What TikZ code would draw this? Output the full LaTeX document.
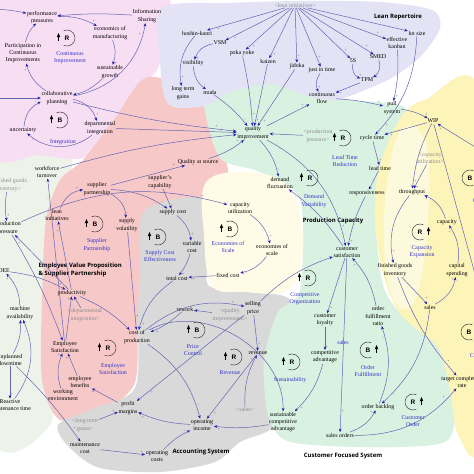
\documentclass[tikz,border=0pt]{standalone}
\usepackage{fontspec}
\setmainfont{Liberation Serif}
\newfontfamily\cldheadfam{Open Sans}
\newfontfamily\cldloopfam{Liberation Sans}
\usetikzlibrary{arrows.meta}

\definecolor{linkc}{HTML}{6464B4}
\definecolor{headc}{HTML}{1C1CA8}
\definecolor{loopblue}{HTML}{3232C8}
\definecolor{ghostc}{HTML}{8E8E8E}
\definecolor{cipink}{HTML}{F8DEF3}
\definecolor{lavbg}{HTML}{E3E3F5}
\definecolor{salmonbg}{HTML}{F6C8C7}
\definecolor{graybg}{HTML}{D9D9D9}
\definecolor{greenbg}{HTML}{D9F1E0}
\definecolor{creambg}{HTML}{FFFBE6}
\definecolor{yellowbg}{HTML}{FCF4B8}
\definecolor{paleyel}{HTML}{FDF9DC}
\definecolor{leftbg}{HTML}{EEF3EA}

\newcommand*{\cldvar}{\fontsize{5.9}{7.2}\selectfont}
\newcommand*{\cldsign}{\fontsize{4}{4}\selectfont}
\newcommand*{\cldhead}{\cldheadfam\bfseries\fontsize{6}{8.6}\selectfont}

% loop symbol: name, x, y, letter, side (1 = arrow on the left, -1 = on the right)
\newcommand*{\cldloop}[5]{%
	\begin{scope}[shift={(#2,#3)},xscale=#5]
		\draw[black!75,line width=0.5pt] (115:8) arc[start angle=115,end angle=-115,radius=8];
		\fill[black] (-8.5,-5) -- (-10.3,-0.8) -- (-6.7,-0.8) -- cycle;
		\draw[black,line width=0.7pt] (-8.5,-1) -- (-8.5,2.5);
	\end{scope}
	\node[looplet] (#1) at (#2,#3) {#4};}

\begin{document}
\begin{tikzpicture}
[
	x=1pt, y=-1pt,
	var/.style={font=\cldvar,align=center,inner sep=0.6pt},
	ghost/.style={var,text=ghostc},
	looplbl/.style={var,text=loopblue},
	looplet/.style={font=\cldloopfam\bfseries\fontsize{6.5}{6.5}\selectfont,inner sep=0pt},
	heading/.style={font=\cldhead,align=center},
	lk/.style={draw=linkc,line width=0.5pt,-{Stealth[length=3.4pt,width=2.8pt,color=headc]}},
	sg/.style={font=\cldsign,text=black!70,pos=0.88,auto,inner sep=0.7pt}
]

	\useasboundingbox (0,0) rectangle (474,474);
	\fill[white] (0,0) rectangle (474,474);

	% background areas
	\fill[leftbg] plot[smooth cycle,tension=.6] coordinates {(-10,140) (70,150) (50,250) (45,350) (50,425) (-10,430)};
	\fill[cipink] plot[smooth cycle,tension=.5] coordinates {(-10,-10) (158,-10) (165,35) (158,68) (143,85) (110,125) (83,158) (40,155) (-10,152)};
	\fill[salmonbg] plot[smooth cycle,tension=.5] coordinates {(145,78) (185,86) (208,100) (218,140) (228,172) (212,195) (180,207) (150,212) (142,260) (138,330) (134,385) (100,412) (60,420) (42,380) (42,300) (46,220) (60,180) (83,160) (115,118)};
	\fill[graybg] plot[smooth cycle,tension=.5] coordinates {(145,210) (205,198) (215,240) (208,285) (260,292) (290,300) (272,330) (265,380) (275,425) (240,442) (215,462) (160,472) (100,468) (70,448) (58,425) (95,408) (135,388) (138,320) (140,260)};
	\fill[greenbg] plot[smooth cycle,tension=.5] coordinates {(205,86) (250,80) (300,90) (350,100) (405,108) (392,150) (376,210) (383,285) (405,318) (440,345) (455,400) (448,440) (400,447) (330,446) (285,440) (268,415) (264,360) (278,312) (300,290) (300,200) (260,172) (222,160) (208,125)};
	\fill[creambg] plot[smooth cycle,tension=.6] coordinates {(206,182) (250,172) (288,186) (302,225) (300,270) (285,292) (245,292) (212,286) (204,235)};
	\fill[lavbg] plot[smooth cycle,tension=.5] coordinates {(162,8) (230,3) (300,1) (380,2) (432,10) (440,28) (422,55) (395,76) (365,90) (335,100) (305,95) (270,84) (230,92) (205,106) (168,104) (160,60)};
	\fill[yellowbg] plot[smooth cycle,tension=.5] coordinates {(425,100) (480,95) (480,435) (458,435) (450,390) (438,348) (402,316) (385,280) (375,225) (377,178) (390,138) (405,112)};
	\fill[paleyel] plot[smooth cycle,tension=.7] coordinates {(398,135) (425,140) (428,220) (415,300) (392,296) (384,220)};

	% headings
	\node[heading] (hLR) at (398,17) {Lean Repertoire};
	\node[heading] (hPC) at (333,221) {Production Capacity};
	\node[heading,align=left,anchor=west] (hEV) at (35,270) {Employee Value Proposition\\\& Supplier Partnership};
	\node[heading] (hAS) at (201,452) {Accounting System};
	\node[heading] (hCF) at (343,456) {Customer Focused System};

	% continuous improvement
	\node[var] (pm) at (42,17) {performance\\measures};
	\node[var] (info) at (147,16) {Information\\Sharing};
	\node[var] (econ) at (110,33) {economics of\\manufacturing};
	\node[var] (part) at (23,53) {Participation in\\Continuous\\Improvements};
	\node[var] (sgr) at (110,72) {sustainable\\growth};
	\node[var] (cp) at (57,98) {collaborative\\planning};
	\node[var] (unc) at (23,130) {uncertainty};
	\node[var] (dint) at (100,128) {departmental\\integration};
	\coordinate (lftA) at (-5,9);
	\coordinate (lftB) at (-5,98);

	% lean repertoire
	\node[ghost] (li) at (295,5) {<lean initiatives>};
	\node[var] (hk) at (197,33) {hoshin-kanri};
	\node[var] (vsm) at (220,43) {VSM};
	\node[var] (pk) at (242,53) {poka yoke};
	\node[var] (kz) at (268,61) {kaizen};
	\node[var] (jd) at (297,66) {jidoka};
	\node[var] (jit) at (322,70) {just in time};
	\node[var] (fiveS) at (353,61) {5S};
	\node[var] (smed) at (378,57) {SMED};
	\node[var] (kan) at (397,43) {effective\\kanban};
	\node[var] (lot) at (417,33) {lot size};
	\node[var] (tpm) at (367,80) {TPM};
	\node[var] (cf) at (322,98) {continuous\\flow};
	\node[var] (vis) at (193,63) {visibility};
	\node[var] (ltg) at (183,93) {long term\\gains};
	\node[var] (muda) at (210,92) {muda};

	% quality and production capacity
	\node[var] (qi) at (253,133) {quality\\improvement};
	\node[ghost] (pp2) at (318,136) {<production\\pressure>};
	\node[var] (ps) at (392,108) {pull\\system};
	\node[var] (wip) at (433,121) {WIP};
	\node[var] (ct) at (372,138) {cycle time};
	\node[var] (lt) at (380,168) {lead time};
	\node[var] (resp) at (367,193) {responsiveness};
	\node[var] (qas) at (198,162) {Quality at source};
	\node[var] (df) at (280,183) {demand\\fluctuation};
	\node[var] (cs) at (347,252) {customer\\satisfaction};
	\coordinate (wipR) at (478,285);
	\coordinate (inR) at (480,150);

	% capacity expansion
	\node[ghost] (cu2) at (430,158) {<capacity\\utilization>};
	\node[var] (thr) at (412,192) {throughput};
	\node[var] (capa) at (447,222) {capacity};
	\node[var] (fgi) at (395,270) {finished goods\\inventory};
	\node[var] (capsp) at (457,270) {capital\\spending};
	\node[var] (sales) at (430,307) {sales};
	\node[var] (tcr) at (462,382) {target completion\\rate};

	% customer focused system
	\node[var] (cl) at (325,320) {customer\\loyalty};
	\node[var] (ofr) at (378,316) {order\\fulfillment\\ratio};
	\node[var] (ca) at (325,357) {competitive\\advantage};
	\node[looplbl] (salesl) at (343,342) {sales};
	\node[var] (ob) at (378,407) {order backlog};
	\node[var] (so) at (340,435) {sales orders};
	\node[var] (sca) at (283,422) {sustainable\\competitive\\advantage};

	% employee value proposition and supplier partnership
	\node[var] (wt) at (47,172) {workforce\\turnover};
	\node[ghost] (fgi2) at (8,185) {<finished goods\\inventory>};
	\node[var] (sp) at (97,189) {supplier\\partnership};
	\node[var] (scap) at (160,182) {supplier's\\capability};
	\node[var] (lin) at (57,215) {lean\\initiatives};
	\node[var] (sv) at (127,225) {supply\\volatility};
	\node[var] (ppr) at (8,228) {production\\pressure};
	\node[var] (oee) at (4,271) {OEE};
	\node[var] (prod) at (72,293) {productivity};
	\node[ghost] (dint2) at (85,315) {<departmental\\integration>};
	\node[var] (ma) at (20,313) {machine\\availability};
	\node[var] (es) at (65,347) {Employee\\Satisfaction};
	\node[var] (ud) at (10,360) {unplanned\\downtime};
	\node[var] (eb) at (80,382) {employee\\benefits};
	\node[var] (we) at (63,395) {working\\environment};
	\node[var] (rmt) at (10,405) {Reactive\\maintenance time};
	\node[var] (pmg) at (128,408) {profit\\margins};
	\node[ghost] (ltg2) at (85,425) {<long term\\gains>};
	\node[var] (mc) at (85,448) {maintenance\\cost};
	\node[var] (oc) at (157,456) {operating\\costs};

	% accounting system
	\node[var] (sc) at (173,212) {supply cost};
	\node[var] (vc) at (192,247) {variable\\cost};
	\node[var] (cu) at (240,208) {capacity\\utilization};
	\node[var] (eos) at (272,250) {economies of\\scale};
	\node[var] (fc) at (228,275) {fixed cost};
	\node[var] (tc) at (177,278) {total cost};
	\node[var] (cop) at (137,337) {cost of\\production};
	\node[var] (rw) at (185,309) {rework};
	\node[ghost] (qi2) at (230,315) {<quality\\improvement>};
	\node[var] (spr) at (253,308) {selling\\price};
	\node[var] (rev) at (258,353) {revenue};
	\node[ghost] (sls2) at (245,409) {<sales>};
	\node[var] (oi) at (202,425) {operating\\income};

	% links: continuous improvement
	\draw[lk] (pm) to[bend left=15] node[sg]{+} (econ);
	\draw[lk] (econ) to[bend left=20] node[sg]{+} (sgr);
	\draw[lk] (sgr) to[bend left=15] node[sg]{+} (cp);
	\draw[lk] (cp) to[bend left=20] node[sg]{+} (part);
	\draw[lk] (part) to[bend left=15] node[sg]{+} (pm);
	\draw[lk] (info) to[bend right=4] node[sg]{+} (pm);
	\draw[lk] (cp) to[bend right=35] node[sg]{+} (info);
	\draw[lk] (cp) to[bend left=30] node[sg]{+} (dint);
	\draw[lk] (dint) to[bend left=40] node[sg]{-} (unc);
	\draw[lk] (unc) to[bend left=30] node[sg]{-} (cp);
	\draw[lk] (lftA) to[bend left=4] (pm);
	\draw[lk] (lftB) -- (cp);

	% links: lean repertoire
	\draw[lk] (li) -- node[sg]{+} (hk);
	\draw[lk] (li) -- node[sg]{+} (vsm);
	\draw[lk] (li) -- node[sg]{+} (pk);
	\draw[lk] (li) -- node[sg]{+} (kz);
	\draw[lk] (li) -- node[sg]{+} (jd);
	\draw[lk] (li) -- node[sg]{+} (jit);
	\draw[lk] (li) -- node[sg]{+} (fiveS);
	\draw[lk] (li) -- node[sg]{+} (smed);
	\draw[lk] (li) -- node[sg]{+} (kan);
	\draw[lk] (li) -- node[sg]{-} (lot);
	\draw[lk] (hk) to[bend right=25] node[sg]{+} (ltg);
	\draw[lk] (vsm) to[bend right=30] node[sg]{+} (vis);
	\draw[lk] (vis) to[bend right=25] node[sg]{-} (muda);
	\draw[lk] (muda) to[bend left=8] node[sg]{-} (qi);
	\draw[lk] (pk) to[bend left=4] node[sg]{+} (qi);
	\draw[lk] (kz) -- node[sg]{+} (qi);
	\draw[lk] (jd) -- node[sg]{+} (qi);
	\draw[lk] (fiveS) to[bend right=40] node[sg]{+} (tpm);
	\draw[lk] (smed) to[bend left=40] node[sg]{+} (tpm);
	\draw[lk] (tpm) -- node[sg]{+} (cf);
	\draw[lk] (jit) to[bend right=30] node[sg]{+} (cf);
	\draw[lk] (cf) to[bend left=5] node[sg]{+} (ps);
	\draw[lk] (kan) to[bend left=8] node[sg]{+} (ps);
	\draw[lk] (lot) to[bend left=20] node[sg]{+} (ct);

	% links: quality and production capacity
	\draw[lk] (ps) to[bend left=10] node[sg]{+} (wip);
	\draw[lk] (wip) -- node[sg]{+} (ct);
	\draw[lk] (ct) -- node[sg]{+} (lt);
	\draw[lk] (lt) -- node[sg]{-} (resp);
	\draw[lk] (resp) to[bend right=8] node[sg]{+} (cs);
	\draw[lk] (qi) -- node[sg]{+} (cf);
	\draw[lk] (pp2) -- node[sg]{-} (qi);
	\draw[lk] (qi) to[bend left=25] node[sg]{+} (cs);
	\draw[lk] (qi) to[bend left=15] node[sg]{-} (df);
	\draw[lk] (cs) to[bend right=10] node[sg]{-} (df);
	\draw[lk] (cp) to[bend right=4] node[sg]{+} (qi);
	\draw[lk] (dint) -- node[sg]{+} (qi);
	\draw[lk] (wt) to[bend left=5] node[sg]{-} (qi);
	\draw[lk] (qas) to[bend right=10] node[sg]{+} (qi);
	\draw[lk] (sp) -- node[sg]{+} (qas);
	\draw[lk] (ppr) to[bend left=20] node[sg]{+} (cu);
	\draw[lk] (wip) -- (wipR);
	\draw[lk] (inR) -- node[sg]{+} (wip);

	% links: capacity expansion
	\draw[lk] (wip) to[bend right=10] node[sg]{+} (thr);
	\draw[lk] (cu2) -- node[sg]{+} (thr);
	\draw[lk] (thr) to[bend right=25] node[sg]{+} (fgi);
	\draw[lk] (fgi) -- node[sg]{+} (sales);
	\draw[lk] (sales) to[bend right=25] node[sg]{+} (capsp);
	\draw[lk] (capsp) to[bend right=20] node[sg]{+} (capa);
	\draw[lk] (capa) to[bend right=25] node[sg]{+} (thr);
	\draw[lk] (fgi) to[bend right=10] node[sg]{+} (tcr);

	% links: customer focused system
	\draw[lk] (cs) -- node[sg]{+} (cl);
	\draw[lk] (cl) -- node[sg]{+} (ca);
	\draw[lk] (cs) -- node[sg]{+} (so);
	\draw[lk] (so) to[bend right=20] node[sg]{+} (ob);
	\draw[lk] (ob) to[bend right=20] node[sg]{-} (ofr);
	\draw[lk] (ofr) to[bend right=15] node[sg]{+} (cs);
	\draw[lk] (sales) to[bend left=20] node[sg]{-} (ob);
	\draw[lk] (so) to[bend right=25] node[sg]{+} (tcr);
	\draw[lk] (ca) to[bend left=15] node[sg]{+} (sca);
	\draw[lk] (spr) to[bend left=12] node[sg]{-} (cs);

	% links: employee value proposition and supplier partnership
	\draw[lk] (lin) to[bend left=30] node[sg]{+} (sp);
	\draw[lk] (sp) to[bend left=30] node[sg]{-} (sv);
	\draw[lk] (sp) to[bend left=15] node[sg]{-} (sc);
	\draw[lk] (scap) -- node[sg]{-} (sc);
	\draw[lk] (prod) -- node[sg]{+} (lin);
	\draw[lk] (prod) -- node[sg]{+} (ppr);
	\draw[lk] (fgi2) to[bend right=10] node[sg]{+} (ppr);
	\draw[lk] (ppr) to[bend left=5] node[sg]{-} (es);
	\draw[lk] (es) -- node[sg]{-} (wt);
	\draw[lk] (oee) to[bend left=10] node[sg]{+} (prod);
	\draw[lk] (dint2) -- node[sg]{+} (prod);
	\draw[lk] (es) -- node[sg]{+} (prod);
	\draw[lk] (ma) to[bend right=20] node[sg]{+} (oee);
	\draw[lk] (ud) to[bend right=15] node[sg]{-} (ma);
	\draw[lk] (ud) -- node[sg]{+} (rmt);
	\draw[lk] (rmt) to[bend right=30] node[sg]{-} (ma);
	\draw[lk] (ud) to[bend left=5] node[sg]{+} (mc);
	\draw[lk] (we) to[bend left=20] node[sg]{+} (es);
	\draw[lk] (eb) -- node[sg]{+} (es);
	\draw[lk] (pmg) -- node[sg]{+} (eb);
	\draw[lk] (ltg2) -- node[sg]{+} (pmg);

	% links: accounting system
	\draw[lk] (sc) to[bend left=20] node[sg]{+} (vc);
	\draw[lk] (vc) to[bend left=10] node[sg]{+} (tc);
	\draw[lk] (fc) -- node[sg]{+} (tc);
	\draw[lk] (eos) to[bend left=20] node[sg]{-} (fc);
	\draw[lk] (cu) to[bend left=20] node[sg]{+} (eos);
	\draw[lk] (sv) -- node[sg]{+} (cop);
	\draw[lk] (prod) to[bend left=10] node[sg]{-} (cop);
	\draw[lk] (tc) to[bend right=20] node[sg]{+} (cop);
	\draw[lk] (cop) to[bend left=25] node[sg]{+} (spr);
	\draw[lk] (cop) to[bend left=60] node[sg]{-} (sca);
	\draw[lk] (rw) to[bend left=10] node[sg]{+} (cop);
	\draw[lk] (qi2) -- node[sg]{-} (rw);
	\draw[lk] (spr) -- node[sg]{+} (rev);
	\draw[lk] (sls2) to[bend left=15] node[sg]{+} (rev);
	\draw[lk] (rev) -- node[sg]{+} (oi);
	\draw[lk] (cop) to[bend left=20] node[sg]{-} (oi);
	\draw[lk] (sca) to[bend left=8] node[sg]{+} (oi);
	\draw[lk] (mc) -- node[sg]{+} (oc);
	\draw[lk] (oc) to[bend left=10] node[sg]{-} (oi);
	\draw[lk] (oi) to[bend left=10] node[sg]{+} (pmg);
	\draw[lk] (spr) -- node[sg]{+} (pmg);

	% loops
	\cldloop{lpCI}{67}{38}{R}{1}
	\cldloop{lpIn}{60}{120}{B}{1}
	\cldloop{lpLT}{343}{138}{R}{1}
	\cldloop{lpDV}{310}{178}{R}{1}
	\cldloop{lpSP}{95}{224}{B}{1}
	\cldloop{lpSC}{158}{237}{B}{1}
	\cldloop{lpEc}{230}{229}{B}{1}
	\cldloop{lpCE}{420}{232}{R}{-1}
	\cldloop{lpCO}{308}{278}{R}{1}
	\cldloop{lpEm}{108}{348}{R}{1}
	\cldloop{lpPC}{197}{330}{B}{1}
	\cldloop{lpRv}{234}{357}{R}{1}
	\cldloop{lpSu}{292}{362}{R}{1}
	\cldloop{lpOF}{368}{350}{B}{-1}
	\cldloop{lpCu}{413}{402}{R}{-1}
	\cldloop{lpWC}{470}{178}{B}{-1}
	\cldloop{lpFG}{469}{332}{B}{-1}

	\node[looplbl] (ciL) at (70,58) {Continuous\\Improvement};
	\node[looplbl] (inL) at (63,142) {Integration};
	\node[looplbl] (ltL) at (345,161) {Lead Time\\Reduction};
	\node[looplbl] (dvL) at (314,201) {Demand\\Variability};
	\node[looplbl] (spL) at (97,245) {Supplier\\Partnership};
	\node[looplbl] (scL) at (160,256) {Supply Cost\\Effectiveness};
	\node[looplbl] (ecL) at (228,247) {Economies of\\Scale};
	\node[looplbl] (ceL) at (422,252) {Capacity\\Expansion};
	\node[looplbl] (coL) at (305,299) {Competitive\\Organization};
	\node[looplbl] (emL) at (113,369) {Employee\\Satisfaction};
	\node[looplbl] (pcL) at (193,350) {Price\\Control};
	\node[looplbl] (rvL) at (230,373) {Revenue};
	\node[looplbl] (suL) at (290,380) {Sustainability};
	\node[looplbl] (ofL) at (368,371) {Order\\Fulfillment};
	\node[looplbl] (cuL) at (413,421) {Customer\\Order};
	\node[looplbl] (wcL) at (482,197) {WIP\\Control};
	\node[looplbl] (fgL) at (479,352) {FGI\\Control};

\end{tikzpicture}
\end{document}
